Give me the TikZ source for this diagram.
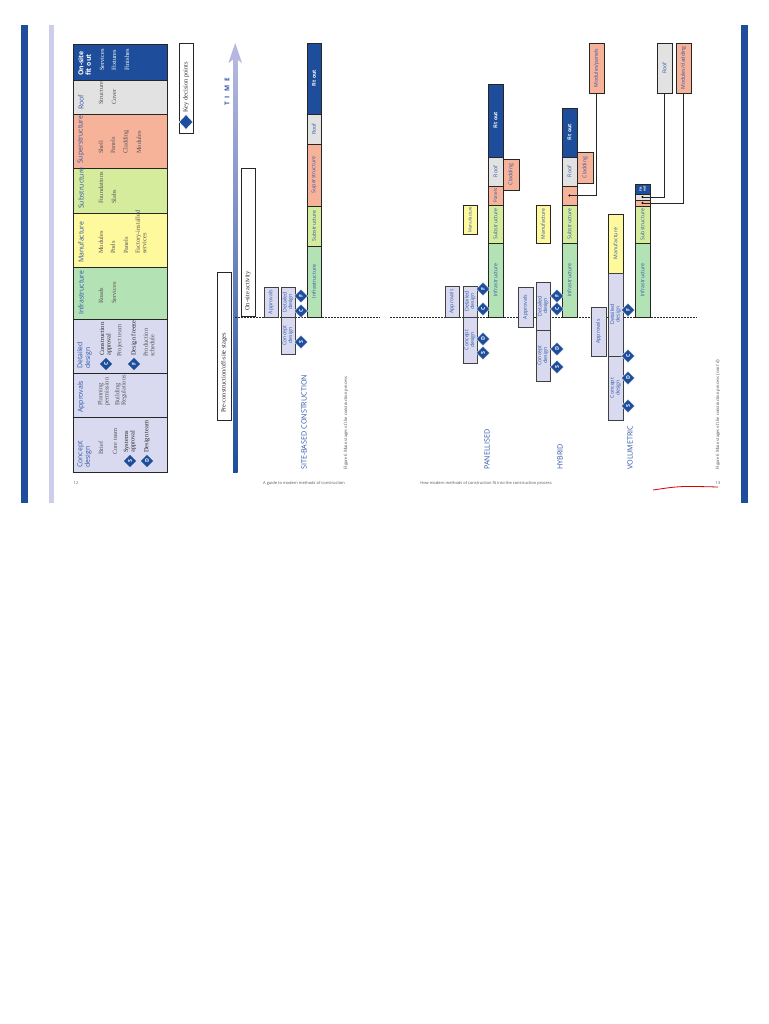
\documentclass[tikz,border=0pt]{standalone}
\usepackage{fontspec}
\setmainfont{Liberation Serif}
\newfontfamily\hsans{Open Sans}
\usetikzlibrary{shapes.geometric}
\definecolor{dblue}{HTML}{1E4E9B}
\definecolor{tblue}{HTML}{2D56A6}
\definecolor{lav}{HTML}{D9DAF0}
\definecolor{ginf}{HTML}{B3E2B4}
\definecolor{gsub}{HTML}{D6EC9D}
\definecolor{yel}{HTML}{FEF99C}
\definecolor{salm}{HTML}{F7B29A}
\definecolor{lgrey}{HTML}{E2E2E2}
\definecolor{tlight}{HTML}{B5B7E0}
\definecolor{tmid}{HTML}{8C93D0}
\definecolor{pbar}{HTML}{CBCDEB}
\definecolor{tgray}{HTML}{555555}
\newcommand{\rbx}[7]{%
  \pgfmathsetmacro{\rbCx}{(#2+#4)/2}%
  \pgfmathsetmacro{\rbCy}{(#3+#5)/2}%
  \pgfmathsetmacro{\rbW}{#5-#3}%
  \pgfmathsetmacro{\rbH}{#4-#2}%
  \node[rotate=90, minimum width=\rbW pt, minimum height=\rbH pt, inner sep=0pt, outer sep=0pt, align=center, #6] (#1) at (\rbCx,\rbCy) {#7};%
}
\begin{document}
\begin{tikzpicture}[x=1pt,y=-1pt,
  hdr/.style={rotate=90, anchor=west, inner sep=0pt, align=left, text=tblue, font=\hsans\fontsize{6.9}{7.6}\selectfont},
  itm/.style={rotate=90, anchor=west, inner sep=0pt, align=left, text=tgray, font=\fontsize{6.4}{6.4}\selectfont},
  itmb/.style={itm, text=black!85},
  cell/.style={draw=black!85, line width=0.7pt},
  seg/.style={draw=black!85, line width=0.6pt, text=tblue, font=\hsans\fontsize{5.2}{5.6}\selectfont},
  segw/.style={seg, fill=dblue, text=white, font=\hsans\bfseries\fontsize{5.2}{5.6}\selectfont},
  bx/.style={draw=black!75, line width=0.7pt, fill=lav, text=tblue, font=\hsans\fontsize{5.2}{5.6}\selectfont},
  dmd/.style={diamond, fill=dblue, draw=white, line width=0.4pt, inner sep=0pt, minimum width=13.5pt, minimum height=13.5pt, text=white, font=\hsans\bfseries\fontsize{5.3}{5.3}\selectfont, rotate=90},
  ttl/.style={rotate=90, anchor=west, inner sep=0pt, text=tblue, font=\hsans\fontsize{7.2}{7.2}\selectfont},
  figcap/.style={rotate=90, anchor=west, inner sep=0pt, text=tgray, font=\fontsize{4.8}{4.8}\selectfont},
  foot/.style={inner sep=0pt, text=tgray, font=\hsans\fontsize{4}{4}\selectfont},
  link/.style={draw=black!85, line width=0.6pt}
]
\useasboundingbox (0,0) rectangle (768,1024);
\fill[white] (0,0) rectangle (768,1024);
% page bars
\fill[dblue] (21,25) rectangle (28,503);
\fill[pbar] (49,25) rectangle (54,503);
\fill[dblue] (741,25) rectangle (748,503);

% ---------- table ----------
\rbx{cFit}{73}{44}{167}{80}{cell, fill=dblue}{}
\rbx{cRoof}{73}{80}{167}{114}{cell, fill=lgrey}{}
\rbx{cSup}{73}{114}{167}{168}{cell, fill=salm}{}
\rbx{cSub}{73}{168}{167}{213}{cell, fill=gsub}{}
\rbx{cMan}{73}{213}{167}{267}{cell, fill=yel}{}
\rbx{cInf}{73}{267}{167}{319}{cell, fill=ginf}{}
\rbx{cDet}{73}{319}{167}{373}{cell, fill=lav}{}
\rbx{cApp}{73}{373}{167}{417}{cell, fill=lav}{}
\rbx{cCon}{73}{417}{167}{472}{cell, fill=lav}{}

\node[hdr, text=white, font=\hsans\bfseries\fontsize{6.9}{7.6}\selectfont] (hFitT) at (84.5,76) {On-site\\fit out};
\node[itm, text=white] (i1) at (102,71) {Services};
\node[itm, text=white] (i2) at (114,71) {Fixtures};
\node[itm, text=white] (i3) at (127,71) {Finishes};

\node[hdr] (hRoofT) at (81,110) {Roof};
\node[itm] (i4) at (101,105) {Structure};
\node[itm] (i5) at (114,105) {Cover};

\node[hdr] (hSupT) at (81,164) {Superstructure};
\node[itm] (i6) at (101,154) {Shell};
\node[itm] (i7) at (113,154) {Panels};
\node[itm] (i8) at (126,154) {Cladding};
\node[itm] (i9) at (139,154) {Modules};

\node[hdr] (hSubT) at (81,209) {Substructure};
\node[itm] (i10) at (101,204) {Foundations};
\node[itm] (i11) at (114,204) {Slabs};

\node[hdr] (hManT) at (81,263) {Manufacture};
\node[itm] (i12) at (101,254) {Modules};
\node[itm] (i13) at (113,254) {Pods};
\node[itm] (i14) at (126,254) {Panels};
\node[itm] (i15) at (141,254) {Factory-installed\\services};

\node[hdr] (hInfT) at (81,315) {Infrastructure};
\node[itm] (i16) at (101,304) {Roads};
\node[itm] (i17) at (114,304) {Services};

\node[hdr] (hDetT) at (84.5,369) {Detailed\\design};
\node[dmd] (tC) at (106,364) {C};
\node[itmb] (i18) at (106,356) {Construction\\approval};
\node[itm] (i19) at (120,357) {Project team};
\node[dmd] (tF) at (134,364) {F};
\node[itmb] (i20) at (134,356) {Design freeze};
\node[itm] (i21) at (149,357) {Production\\schedule};

\node[hdr] (hAppT) at (81,413) {Approvals};
\node[itm] (i22) at (104,406) {Planning\\permission};
\node[itm] (i23) at (121,406) {Building\\Regulations};

\node[hdr] (hConT) at (84.5,468) {Concept\\design};
\node[itm] (i24) at (101,455) {Brief};
\node[itm] (i25) at (115,455) {Core team};
\node[dmd] (tS) at (130,461) {S};
\node[itmb] (i26) at (130,453) {Systems\\approval};
\node[dmd] (tD) at (147,461) {D};
\node[itmb] (i27) at (147,453) {Design team};

% ---------- key ----------
\rbx{key}{179}{43}{193}{133}{draw=black!85, line width=0.7pt, fill=white}{}
\node[dmd, minimum width=15pt, minimum height=14pt] (keyD) at (186,122) {};
\node[itm, text=black!80] (keyT) at (186,113) {Key decision points};

% ---------- time arrow ----------
\shade[top color=tlight, middle color=tmid, bottom color=dblue] (233,58) rectangle (237.5,472);
\fill[tlight] (235.2,43) -- (242,63) -- (235.2,58) -- (228.4,63) -- cycle;
\node[rotate=90, anchor=west, inner sep=0pt, text=tblue, font=\hsans\bfseries\fontsize{6.5}{7}\selectfont] (timeT) at (227,106) {T\hspace{4pt}I\hspace{4pt}M\hspace{4pt}E};

\rbx{pre}{217}{272}{231}{420}{draw=black!85, line width=0.7pt, fill=white}{}
\node[itm, text=black!85] (preT) at (224,413) {Pre-construction/off-site stages};
\rbx{ons}{241}{168}{255}{316}{draw=black!85, line width=0.7pt, fill=white}{}
\node[itm, text=black!85] (onsT) at (248,311) {On-site activity};

% ---------- baseline ----------
\coordinate (d1) at (235,317); \coordinate (d2) at (380,317);
\coordinate (d3) at (390,317); \coordinate (d4) at (697,317);
\draw[black!85, line width=0.5pt, dash pattern=on 2pt off 1pt] (d1) -- (d2);
\draw[black!85, line width=0.5pt, dash pattern=on 2pt off 1pt] (d3) -- (d4);

% ---------- site-based ----------
\rbx{sFit}{307}{43}{321}{114}{segw}{Fit out}
\rbx{sRoof}{307}{114}{321}{144}{seg, fill=lgrey}{Roof}
\rbx{sSup}{307}{144}{321}{206}{seg, fill=salm}{Superstructure}
\rbx{sSub}{307}{206}{321}{246}{seg, fill=gsub}{Substructure}
\rbx{sInf}{307}{246}{321}{317}{seg, fill=ginf}{Infrastructure}
\rbx{sApp}{264}{287}{278}{317}{bx}{Approvals}
\rbx{sDet}{281}{287}{295}{317}{bx}{Detailed\\design}
\rbx{sCon}{281}{317}{295}{354}{bx}{Concept\\design}
\node[dmd] (sF) at (301,296) {F};
\node[dmd] (sC) at (301,311) {C};
\node[dmd] (sS) at (301,342) {S};
\node[ttl] (sT) at (304,470) {SITE-BASED CONSTRUCTION};
\node[figcap] (cap1) at (346,470) {Figure 6 Main stages of the construction process};

% ---------- panellised ----------
\rbx{pFit}{488}{84}{503}{157}{segw}{Fit out}
\rbx{pRoof}{488}{157}{503}{186}{seg, fill=lgrey}{Roof}
\rbx{pPan}{488}{186}{503}{205}{seg, fill=salm, font=\hsans\fontsize{4.6}{5}\selectfont}{Panels}
\rbx{pSub}{488}{205}{503}{243}{seg, fill=gsub}{Substructure}
\rbx{pInf}{488}{243}{503}{317}{seg, fill=ginf}{Infrastructure}
\rbx{pCla}{503}{159}{519}{190}{seg, fill=salm}{Cladding}
\rbx{pMan}{463}{205}{477}{234}{seg, fill=yel, font=\hsans\fontsize{4.3}{5}\selectfont}{Manufacture}
\rbx{pApp}{445}{286}{459}{317}{bx}{Approvals}
\rbx{pDet}{463}{286}{477}{317}{bx}{Detailed\\design}
\rbx{pCon}{463}{317}{477}{363}{bx}{Concept\\design}
\node[dmd] (pF) at (483,289) {F};
\node[dmd] (pC) at (483,309) {C};
\node[dmd] (pD) at (483,339) {D};
\node[dmd] (pS) at (483,353) {S};
\node[ttl] (pT) at (487,470) {PANELLISED};

% ---------- hybrid ----------
\rbx{hFit}{562}{108}{577}{157}{segw}{Fit out}
\rbx{hRoof}{562}{157}{577}{186}{seg, fill=lgrey}{Roof}
\rbx{hSal}{562}{186}{577}{205}{seg, fill=salm}{}
\rbx{hSub}{562}{205}{577}{243}{seg, fill=gsub}{Substructure}
\rbx{hInf}{562}{243}{577}{317}{seg, fill=ginf}{Infrastructure}
\rbx{hCla}{577}{152}{593}{183}{seg, fill=salm}{Cladding}
\rbx{hMan}{536}{205}{550}{243}{seg, fill=yel}{Manufacture}
\rbx{hApp}{518}{287}{533}{327}{bx}{Approvals}
\rbx{hDet}{536}{282}{550}{330}{bx}{Detailed\\design}
\rbx{hCon}{536}{330}{550}{381}{bx}{Concept\\design}
\node[dmd] (hF) at (557,296) {F};
\node[dmd] (hC) at (557,309) {C};
\node[dmd] (hD) at (557,349) {D};
\node[dmd] (hS) at (557,367) {S};
\rbx{hMP}{589}{43}{604}{93}{seg, fill=salm}{Modules/panels}
\fill[black] (hSal.center) circle (1.1pt);
\draw[link] (hSal.center) -| (hMP.west);
\node[ttl] (hT) at (560,470) {HYBRID};

% ---------- volumetric ----------
\rbx{vFit}{635}{184}{650}{194}{segw, font=\hsans\bfseries\fontsize{3.3}{3.6}\selectfont}{Fit\\out}
\rbx{vRoof}{635}{194}{650}{200}{seg, fill=lgrey}{}
\rbx{vSal}{635}{200}{650}{206}{seg, fill=salm}{}
\rbx{vSub}{635}{206}{650}{243}{seg, fill=gsub}{Substructure}
\rbx{vInf}{635}{243}{650}{317}{seg, fill=ginf}{Infrastructure}
\rbx{vMan}{608}{214}{623}{273}{seg, fill=yel}{Manufacture}
\rbx{vDet}{608}{273}{623}{356}{bx}{Detailed\\design}
\rbx{vApp}{591}{307}{606}{356}{bx}{Approvals}
\rbx{vCon}{608}{356}{623}{420}{bx}{Concept\\design}
\node[dmd] (vF) at (628,310) {F};
\node[dmd] (vC) at (628,356) {C};
\node[dmd] (vD) at (628,378) {D};
\node[dmd] (vS) at (628,406) {S};
\rbx{vRoofB}{657}{43}{672}{93}{seg, fill=lgrey}{Roof}
\rbx{vMC}{676}{43}{691}{93}{seg, fill=salm}{Modules/cladding}
\fill[black] (vRoof.center) circle (1.1pt);
\draw[link] (vRoof.center) -| (vRoofB.west);
\fill[black] (vSal.center) circle (1.1pt);
\draw[link] (vSal.center) -| (vMC.west);
\node[ttl] (vT) at (630,470) {VOLUMETRIC};
\node[figcap] (cap2) at (718,470) {Figure 6 Main stages of the construction process (cont'd)};

% ---------- footers ----------
\node[foot] (pg12) at (76,483) {12};
\node[foot] (ft1) at (304,483) {A guide to modern methods of construction};
\node[foot] (ft2) at (486,483) {How modern methods of construction fit into the construction process};
\node[foot] (pg13) at (718,483) {13};
\draw[red!85!black, line width=0.8pt] (653,490) .. controls (680,486) .. (718,487);
\end{tikzpicture}
\end{document}
